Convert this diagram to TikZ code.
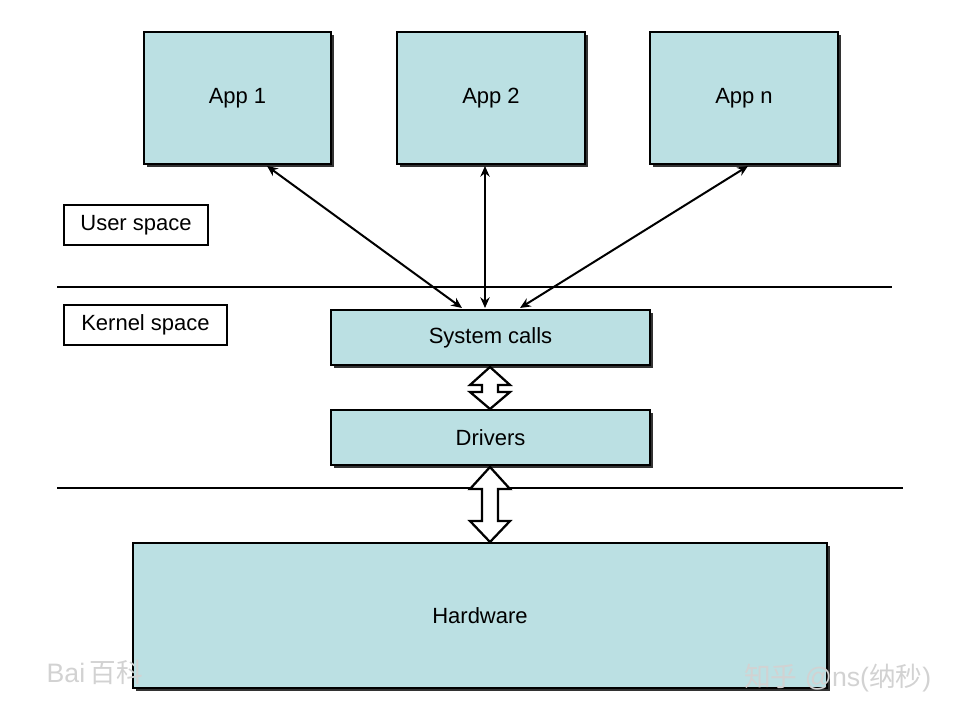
\documentclass[tikz,border=0pt]{standalone}
\usepackage{fontspec}
\setmainfont{Liberation Sans}
\newfontfamily\cjk{Noto Sans CJK SC}
\usetikzlibrary{arrows.meta}
\definecolor{boxc}{RGB}{187,224,227}
\tikzset{
 txt/.style={font=\fontsize{16.5}{20}\selectfont},
 arr/.style={line width=1.5pt,{Stealth[length=8pt,width=7pt]}-{Stealth[length=8pt,width=7pt]}},
 sep/.style={line width=1.7pt},
 hollow/.style={draw=black,line width=1.7pt,fill=white},
 wm/.style={text=gray!35,font=\fontsize{20}{24}\selectfont}
}
\begin{document}
\begin{tikzpicture}[x=0.75pt,y=-0.75pt]
\useasboundingbox (0,0) rectangle (960,720);
\newcommand\mybox[6]{% name x1 y1 x2 y2 text
 \fill[black!80] (#2+3,#3+3) rectangle (#4+3,#5+3);
 \filldraw[fill=boxc,draw=black,line width=1.5pt] (#2,#3) rectangle (#4,#5);
 \node[txt] (#1) at ({(#2+#4)/2},{(#3+#5)/2}) [minimum width={(#4-#2)*0.75pt},minimum height={(#5-#3)*0.75pt}] {#6};}
\mybox{a1}{144}{32}{331}{164}{App 1}
\mybox{a2}{397}{32}{585}{164}{App 2}
\mybox{an}{650}{32}{838}{164}{App n}
\mybox{sc}{331}{310}{650}{365}{System calls}
\mybox{dr}{331}{410}{650}{465}{Drivers}
\mybox{hw}{133}{543}{827}{688}{Hardware}
\draw[line width=1.4pt,fill=white] (64,205) rectangle (208,245);
\node[txt] (us) at (136,225) {User space};
\draw[line width=1.4pt,fill=white] (64,305) rectangle (227,345);
\node[txt] (ks) at (145.5,325) {Kernel space};
\coordinate (l1a) at (57,287); \coordinate (l1b) at (892,287);
\coordinate (l2a) at (57,488); \coordinate (l2b) at (903,488);
\draw[sep] (l1a) -- (l1b);
\draw[sep] (l2a) -- (l2b);
\draw[arr] (267,166) -- (462,308);
\draw[arr] (485,166) -- (485,308);
\draw[arr] (748,166) -- (520,308);
\draw[hollow] (490,367) -- (510,385) -- (498,385) -- (498,392) -- (510,392) -- (490,409) -- (470,392) -- (482,392) -- (482,385) -- (470,385) -- cycle;
\draw[hollow] (490,467) -- (510,489) -- (498,489) -- (498,521) -- (510,521) -- (490,542) -- (470,521) -- (482,521) -- (482,489) -- (470,489) -- cycle;
\node[wm,anchor=west] (wb) at (42,672) {Bai\,{\cjk 百科}};
\node[wm,anchor=east] (wz) at (936,678) {{\cjk 知乎} @ns({\cjk 纳秒})};
\end{tikzpicture}
\end{document}
